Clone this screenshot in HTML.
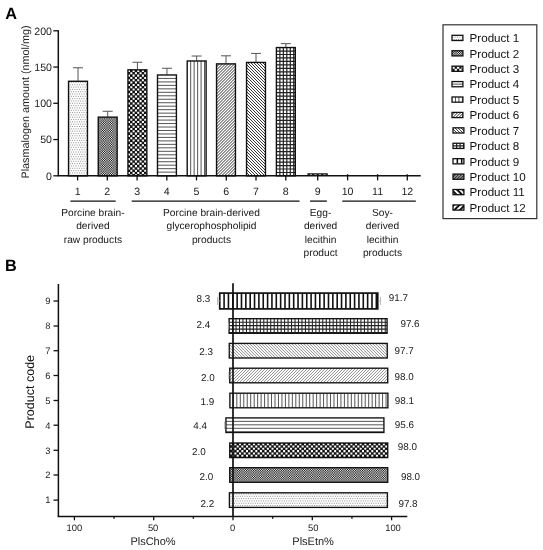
<!DOCTYPE html>
<html><head><meta charset="utf-8"><title>Plasmalogen figure</title>
<style>
html,body{margin:0;padding:0;background:#fff;}
body{width:543px;height:550px;overflow:hidden;}
svg{display:block;filter:blur(0.3px);font-family:"Liberation Sans",sans-serif;fill:#111;text-rendering:geometricPrecision;}
.ax{stroke:#111;stroke-width:1.5;fill:none;}
.tk{stroke:#111;stroke-width:1.3;fill:none;}
.eb{stroke:#555;stroke-width:1.0;fill:none;}
.ebg{stroke:#aaa;stroke-width:0.8;fill:none;}
.ul{stroke:#111;stroke-width:1.3;}
.t1{font-size:10.6px;fill:#222;}
.t2{font-size:10.2px;fill:#151515;}
.t3{font-size:9.4px;fill:#222;}
.t4{font-size:9.9px;fill:#222;}
.lg{font-size:11.6px;fill:#111;}
</style></head><body>
<svg width="543" height="550" viewBox="0 0 543 550">

<text x="5.2" y="18.8" font-size="16.3px" font-weight="bold" fill="#000">A</text>
<path class="eb" d="M78.00,80.83 V67.78 M73.00,67.78 H83.00"/>
<clipPath id="c1"><rect x="68.55" y="81.28" width="18.9" height="94.52"/></clipPath>
<g clip-path="url(#c1)"><rect x="68.55" y="81.28" width="18.9" height="94.52" fill="#fdfdfd"/>
<path d="M66.23,82.44H89.77M65.07,84.76H89.77M66.23,87.08H89.77M65.07,89.39H89.77M66.23,91.71H89.77M65.07,94.03H89.77M66.23,96.35H89.77M65.07,98.67H89.77M66.23,100.99H89.77M65.07,103.31H89.77M66.23,105.63H89.77M65.07,107.95H89.77M66.23,110.27H89.77M65.07,112.59H89.77M66.23,114.91H89.77M65.07,117.23H89.77M66.23,119.55H89.77M65.07,121.87H89.77M66.23,124.19H89.77M65.07,126.51H89.77M66.23,128.83H89.77M65.07,131.15H89.77M66.23,133.47H89.77M65.07,135.79H89.77M66.23,138.11H89.77M65.07,140.43H89.77M66.23,142.75H89.77M65.07,145.07H89.77M66.23,147.39H89.77M65.07,149.71H89.77M66.23,152.03H89.77M65.07,154.35H89.77M66.23,156.67H89.77M65.07,158.99H89.77M66.23,161.31H89.77M65.07,163.63H89.77M66.23,165.95H89.77M65.07,168.27H89.77M66.23,170.59H89.77M65.07,172.91H89.77M66.23,175.23H89.77M65.07,177.55H89.77" stroke="#8a8a8a" stroke-width="0.95" stroke-dasharray="0.95 1.37" fill="none"/>
</g>
<rect x="68.55" y="81.28" width="18.9" height="94.52" fill="none" stroke="#111" stroke-width="1.4"/>
<path class="eb" d="M107.70,116.71 V111.28 M102.70,111.28 H112.70"/>
<clipPath id="c2"><rect x="98.25" y="117.16" width="18.9" height="58.64"/></clipPath>
<g clip-path="url(#c2)"><rect x="98.25" y="117.16" width="18.9" height="58.64" fill="#e6e6e6"/>
<path d="M95.93,117.74H119.47M94.77,118.9H119.47M95.93,120.06H119.47M94.77,121.22H119.47M95.93,122.38H119.47M94.77,123.54H119.47M95.93,124.7H119.47M94.77,125.86H119.47M95.93,127.02H119.47M94.77,128.18H119.47M95.93,129.34H119.47M94.77,130.5H119.47M95.93,131.66H119.47M94.77,132.82H119.47M95.93,133.98H119.47M94.77,135.14H119.47M95.93,136.3H119.47M94.77,137.46H119.47M95.93,138.62H119.47M94.77,139.78H119.47M95.93,140.94H119.47M94.77,142.1H119.47M95.93,143.26H119.47M94.77,144.42H119.47M95.93,145.58H119.47M94.77,146.74H119.47M95.93,147.9H119.47M94.77,149.06H119.47M95.93,150.22H119.47M94.77,151.38H119.47M95.93,152.54H119.47M94.77,153.7H119.47M95.93,154.86H119.47M94.77,156.02H119.47M95.93,157.18H119.47M94.77,158.34H119.47M95.93,159.5H119.47M94.77,160.66H119.47M95.93,161.82H119.47M94.77,162.98H119.47M95.93,164.14H119.47M94.77,165.3H119.47M95.93,166.46H119.47M94.77,167.62H119.47M95.93,168.78H119.47M94.77,169.94H119.47M95.93,171.1H119.47M94.77,172.26H119.47M95.93,173.42H119.47M94.77,174.58H119.47M95.93,175.74H119.47M94.77,176.9H119.47" stroke="#1a1a1a" stroke-width="1.16" stroke-dasharray="1.16 1.16" fill="none"/>
</g>
<rect x="98.25" y="117.16" width="18.9" height="58.64" fill="none" stroke="#111" stroke-width="1.4"/>
<path class="eb" d="M137.40,69.37 V62.26 M132.40,62.26 H142.40"/>
<clipPath id="c3"><rect x="127.95" y="69.82" width="18.9" height="105.98"/></clipPath>
<g clip-path="url(#c3)"><rect x="127.95" y="69.82" width="18.9" height="105.98" fill="#111"/>
<path d="M123.31,70.98H151.49M120.99,73.3H151.49M123.31,75.62H151.49M120.99,77.94H151.49M123.31,80.26H151.49M120.99,82.58H151.49M123.31,84.9H151.49M120.99,87.22H151.49M123.31,89.54H151.49M120.99,91.86H151.49M123.31,94.18H151.49M120.99,96.5H151.49M123.31,98.82H151.49M120.99,101.14H151.49M123.31,103.46H151.49M120.99,105.78H151.49M123.31,108.1H151.49M120.99,110.42H151.49M123.31,112.74H151.49M120.99,115.06H151.49M123.31,117.38H151.49M120.99,119.7H151.49M123.31,122.02H151.49M120.99,124.34H151.49M123.31,126.66H151.49M120.99,128.98H151.49M123.31,131.3H151.49M120.99,133.62H151.49M123.31,135.94H151.49M120.99,138.26H151.49M123.31,140.58H151.49M120.99,142.9H151.49M123.31,145.22H151.49M120.99,147.54H151.49M123.31,149.86H151.49M120.99,152.18H151.49M123.31,154.5H151.49M120.99,156.82H151.49M123.31,159.14H151.49M120.99,161.46H151.49M123.31,163.78H151.49M120.99,166.1H151.49M123.31,168.42H151.49M120.99,170.74H151.49M123.31,173.06H151.49M120.99,175.38H151.49M123.31,177.7H151.49" stroke="#fff" stroke-width="2.05" stroke-dasharray="2.05 2.59" fill="none"/>
</g>
<rect x="127.95" y="69.82" width="18.9" height="105.98" fill="none" stroke="#111" stroke-width="1.4"/>
<path class="eb" d="M166.95,74.52 V68.28 M161.95,68.28 H171.95"/>
<clipPath id="c4"><rect x="157.5" y="74.97" width="18.9" height="100.83"/></clipPath>
<g clip-path="url(#c4)"><rect x="157.5" y="74.97" width="18.9" height="100.83" fill="#fff"/>
<path d="M157.5,78.44H176.4M157.5,81.91H176.4M157.5,85.38H176.4M157.5,88.85H176.4M157.5,92.32H176.4M157.5,95.79H176.4M157.5,99.26H176.4M157.5,102.73H176.4M157.5,106.2H176.4M157.5,109.67H176.4M157.5,113.14H176.4M157.5,116.61H176.4M157.5,120.08H176.4M157.5,123.55H176.4M157.5,127.02H176.4M157.5,130.49H176.4M157.5,133.96H176.4M157.5,137.43H176.4M157.5,140.9H176.4M157.5,144.37H176.4M157.5,147.84H176.4M157.5,151.31H176.4M157.5,154.78H176.4M157.5,158.25H176.4M157.5,161.72H176.4M157.5,165.19H176.4M157.5,168.66H176.4M157.5,172.13H176.4M157.5,175.6H176.4" stroke="#555" stroke-width="1.0" fill="none"/>
</g>
<rect x="157.5" y="74.97" width="18.9" height="100.83" fill="none" stroke="#111" stroke-width="1.4"/>
<path class="eb" d="M196.65,60.53 V56.03 M191.65,56.03 H201.65"/>
<clipPath id="c5"><rect x="187.2" y="60.98" width="18.9" height="114.83"/></clipPath>
<g clip-path="url(#c5)"><rect x="187.2" y="60.98" width="18.9" height="114.83" fill="#fff"/>
<path d="M190.67,60.98V175.8M194.14,60.98V175.8M197.61,60.98V175.8M201.08,60.98V175.8M204.55,60.98V175.8" stroke="#555" stroke-width="1.0" fill="none"/>
</g>
<rect x="187.2" y="60.98" width="18.9" height="114.83" fill="none" stroke="#111" stroke-width="1.4"/>
<path class="eb" d="M226.00,63.43 V55.81 M221.00,55.81 H231.00"/>
<clipPath id="c6"><rect x="216.55" y="63.88" width="18.9" height="111.92"/></clipPath>
<g clip-path="url(#c6)"><rect x="216.55" y="63.88" width="18.9" height="111.92" fill="#fff"/>
<path d="M215.55,64.88L236.45,43.98M215.55,67.88L236.45,46.98M215.55,70.88L236.45,49.98M215.55,73.88L236.45,52.98M215.55,76.88L236.45,55.98M215.55,79.88L236.45,58.98M215.55,82.88L236.45,61.98M215.55,85.88L236.45,64.98M215.55,88.88L236.45,67.98M215.55,91.88L236.45,70.98M215.55,94.88L236.45,73.98M215.55,97.88L236.45,76.98M215.55,100.88L236.45,79.98M215.55,103.88L236.45,82.98M215.55,106.88L236.45,85.98M215.55,109.88L236.45,88.98M215.55,112.88L236.45,91.98M215.55,115.88L236.45,94.98M215.55,118.88L236.45,97.98M215.55,121.88L236.45,100.98M215.55,124.88L236.45,103.98M215.55,127.88L236.45,106.98M215.55,130.88L236.45,109.98M215.55,133.88L236.45,112.98M215.55,136.88L236.45,115.98M215.55,139.88L236.45,118.98M215.55,142.88L236.45,121.98M215.55,145.88L236.45,124.98M215.55,148.88L236.45,127.98M215.55,151.88L236.45,130.98M215.55,154.88L236.45,133.98M215.55,157.88L236.45,136.98M215.55,160.88L236.45,139.98M215.55,163.88L236.45,142.98M215.55,166.88L236.45,145.98M215.55,169.88L236.45,148.98M215.55,172.88L236.45,151.98M215.55,175.88L236.45,154.98M215.55,178.88L236.45,157.98M215.55,181.88L236.45,160.98M215.55,184.88L236.45,163.98M215.55,187.88L236.45,166.98M215.55,190.88L236.45,169.98M215.55,193.88L236.45,172.98M215.55,196.88L236.45,175.98" stroke="#2a2a2a" stroke-width="0.95" fill="none"/>
</g>
<rect x="216.55" y="63.88" width="18.9" height="111.92" fill="none" stroke="#111" stroke-width="1.4"/>
<path class="eb" d="M256.00,61.98 V53.42 M251.00,53.42 H261.00"/>
<clipPath id="c7"><rect x="246.55" y="62.43" width="18.9" height="113.38"/></clipPath>
<g clip-path="url(#c7)"><rect x="246.55" y="62.43" width="18.9" height="113.38" fill="#fff"/>
<path d="M245.55,42.53L266.45,63.43M245.55,45.53L266.45,66.43M245.55,48.53L266.45,69.43M245.55,51.53L266.45,72.43M245.55,54.53L266.45,75.43M245.55,57.53L266.45,78.43M245.55,60.53L266.45,81.43M245.55,63.53L266.45,84.43M245.55,66.53L266.45,87.43M245.55,69.53L266.45,90.43M245.55,72.53L266.45,93.43M245.55,75.53L266.45,96.43M245.55,78.53L266.45,99.43M245.55,81.53L266.45,102.43M245.55,84.53L266.45,105.43M245.55,87.53L266.45,108.43M245.55,90.53L266.45,111.43M245.55,93.53L266.45,114.43M245.55,96.53L266.45,117.43M245.55,99.53L266.45,120.43M245.55,102.53L266.45,123.43M245.55,105.53L266.45,126.43M245.55,108.53L266.45,129.43M245.55,111.53L266.45,132.43M245.55,114.53L266.45,135.43M245.55,117.53L266.45,138.43M245.55,120.53L266.45,141.43M245.55,123.53L266.45,144.43M245.55,126.53L266.45,147.43M245.55,129.53L266.45,150.43M245.55,132.53L266.45,153.43M245.55,135.53L266.45,156.43M245.55,138.53L266.45,159.43M245.55,141.53L266.45,162.43M245.55,144.53L266.45,165.43M245.55,147.53L266.45,168.43M245.55,150.53L266.45,171.43M245.55,153.53L266.45,174.43M245.55,156.53L266.45,177.43M245.55,159.53L266.45,180.43M245.55,162.53L266.45,183.43M245.55,165.53L266.45,186.43M245.55,168.53L266.45,189.43M245.55,171.53L266.45,192.43M245.55,174.53L266.45,195.43M245.55,177.53L266.45,198.43" stroke="#2a2a2a" stroke-width="0.95" fill="none"/>
</g>
<rect x="246.55" y="62.43" width="18.9" height="113.38" fill="none" stroke="#111" stroke-width="1.4"/>
<path class="eb" d="M285.85,47.11 V43.63 M280.85,43.63 H290.85"/>
<clipPath id="c8"><rect x="276.4" y="47.56" width="18.9" height="128.24"/></clipPath>
<g clip-path="url(#c8)"><rect x="276.4" y="47.56" width="18.9" height="128.24" fill="#fff"/>
<path d="M276.4,51.03H295.3M276.4,54.5H295.3M276.4,57.97H295.3M276.4,61.44H295.3M276.4,64.91H295.3M276.4,68.38H295.3M276.4,71.85H295.3M276.4,75.32H295.3M276.4,78.79H295.3M276.4,82.26H295.3M276.4,85.73H295.3M276.4,89.2H295.3M276.4,92.67H295.3M276.4,96.14H295.3M276.4,99.61H295.3M276.4,103.08H295.3M276.4,106.55H295.3M276.4,110.02H295.3M276.4,113.49H295.3M276.4,116.96H295.3M276.4,120.43H295.3M276.4,123.9H295.3M276.4,127.37H295.3M276.4,130.84H295.3M276.4,134.31H295.3M276.4,137.78H295.3M276.4,141.25H295.3M276.4,144.72H295.3M276.4,148.19H295.3M276.4,151.66H295.3M276.4,155.13H295.3M276.4,158.6H295.3M276.4,162.07H295.3M276.4,165.54H295.3M276.4,169.01H295.3M276.4,172.48H295.3M276.4,175.95H295.3M279.87,47.56V175.8M283.34,47.56V175.8M286.81,47.56V175.8M290.28,47.56V175.8M293.75,47.56V175.8" stroke="#222" stroke-width="1.2" fill="none"/>
</g>
<rect x="276.4" y="47.56" width="18.9" height="128.24" fill="none" stroke="#111" stroke-width="1.4"/>
<rect x="307.4" y="173.2" width="20.4" height="2.8" fill="#222"/>
<path d="M310,174.6 h2 M314.5,174.6 h2 M319,174.6 h2 M323.5,174.6 h2" stroke="#aaa" stroke-width="1"/>
<path class="ax" d="M58.3,30.15 V175.80"/>
<path class="ax" d="M57.55,175.80 H420.7"/>
<path class="tk" d="M53.3,175.80 H58.3"/>
<text class="t1" x="52" y="179.60" text-anchor="end">0</text>
<path class="tk" d="M53.3,139.55 H58.3"/>
<text class="t1" x="52" y="143.35" text-anchor="end">50</text>
<path class="tk" d="M53.3,103.30 H58.3"/>
<text class="t1" x="52" y="107.10" text-anchor="end">100</text>
<path class="tk" d="M53.3,67.05 H58.3"/>
<text class="t1" x="52" y="70.85" text-anchor="end">150</text>
<path class="tk" d="M53.3,30.80 H58.3"/>
<text class="t1" x="52" y="34.60" text-anchor="end">200</text>
<path class="tk" d="M77.60,175.80 V180.4"/>
<text class="t1" x="77.60" y="195.3" text-anchor="middle">1</text>
<path class="tk" d="M107.30,175.80 V180.4"/>
<text class="t1" x="107.30" y="195.3" text-anchor="middle">2</text>
<path class="tk" d="M137.10,175.80 V180.4"/>
<text class="t1" x="137.10" y="195.3" text-anchor="middle">3</text>
<path class="tk" d="M166.80,175.80 V180.4"/>
<text class="t1" x="166.80" y="195.3" text-anchor="middle">4</text>
<path class="tk" d="M196.50,175.80 V180.4"/>
<text class="t1" x="196.50" y="195.3" text-anchor="middle">5</text>
<path class="tk" d="M226.30,175.80 V180.4"/>
<text class="t1" x="226.30" y="195.3" text-anchor="middle">6</text>
<path class="tk" d="M256.00,175.80 V180.4"/>
<text class="t1" x="256.00" y="195.3" text-anchor="middle">7</text>
<path class="tk" d="M285.80,175.80 V180.4"/>
<text class="t1" x="285.80" y="195.3" text-anchor="middle">8</text>
<path class="tk" d="M317.70,175.80 V180.4"/>
<text class="t1" x="317.70" y="195.3" text-anchor="middle">9</text>
<path class="tk" d="M347.60,174.20 V180.4"/>
<text class="t1" x="347.60" y="195.3" text-anchor="middle">10</text>
<path class="tk" d="M377.60,174.20 V180.4"/>
<text class="t1" x="377.60" y="195.3" text-anchor="middle">11</text>
<path class="tk" d="M407.30,174.20 V180.4"/>
<text class="t1" x="407.30" y="195.3" text-anchor="middle">12</text>
<text class="t1" style="font-size:10.8px" transform="translate(28.6,102) rotate(-90)" text-anchor="middle">Plasmalogen amount (nmol/mg)</text>
<path class="ul" d="M70.4,201.1 H115.7"/>
<path class="ul" d="M131.7,201.1 H299.5"/>
<path class="ul" d="M310.1,201.1 H326.9"/>
<path class="ul" d="M342.3,201.1 H415.8"/>
<text class="t2" x="92.9" y="216.10" text-anchor="middle">Porcine brain-</text>
<text class="t2" x="92.9" y="229.40" text-anchor="middle">derived</text>
<text class="t2" x="92.9" y="242.70" text-anchor="middle">raw products</text>
<text class="t2" x="211.5" y="216.10" text-anchor="middle">Porcine brain-derived</text>
<text class="t2" x="211.5" y="229.40" text-anchor="middle">glycerophospholipid</text>
<text class="t2" x="211.5" y="242.70" text-anchor="middle">products</text>
<text class="t2" x="320.6" y="216.10" text-anchor="middle">Egg-</text>
<text class="t2" x="320.6" y="229.40" text-anchor="middle">derived</text>
<text class="t2" x="320.6" y="242.70" text-anchor="middle">lecithin</text>
<text class="t2" x="320.6" y="256.00" text-anchor="middle">product</text>
<text class="t2" x="382.5" y="216.10" text-anchor="middle">Soy-</text>
<text class="t2" x="382.5" y="229.40" text-anchor="middle">derived</text>
<text class="t2" x="382.5" y="242.70" text-anchor="middle">lecithin</text>
<text class="t2" x="382.5" y="256.00" text-anchor="middle">products</text>
<rect x="443" y="24.8" width="93.8" height="193.8" fill="#fff" stroke="#333" stroke-width="1.2"/>
<clipPath id="c9"><rect x="452" y="35.3" width="10.9" height="5.2"/></clipPath>
<g clip-path="url(#c9)"><rect x="452" y="35.3" width="10.9" height="5.2" fill="#fdfdfd"/>
<path d="M450.08,37.21H465.22M448.92,39.53H465.22M450.08,41.85H465.22" stroke="#8a8a8a" stroke-width="0.95" stroke-dasharray="0.95 1.37" fill="none"/>
</g>
<rect x="452" y="35.3" width="10.9" height="5.2" fill="none" stroke="#111" stroke-width="1.3"/>
<text class="lg" x="469.6" y="42.15">Product 1</text>
<clipPath id="c10"><rect x="452" y="50.72" width="10.9" height="5.2"/></clipPath>
<g clip-path="url(#c10)"><rect x="452" y="50.72" width="10.9" height="5.2" fill="#e6e6e6"/>
<path d="M449.68,51.3H465.22M448.52,52.46H465.22M449.68,53.62H465.22M448.52,54.78H465.22M449.68,55.94H465.22" stroke="#1a1a1a" stroke-width="1.16" stroke-dasharray="1.16 1.16" fill="none"/>
</g>
<rect x="452" y="50.72" width="10.9" height="5.2" fill="none" stroke="#111" stroke-width="1.3"/>
<text class="lg" x="469.6" y="57.57">Product 2</text>
<clipPath id="c11"><rect x="452" y="66.14" width="10.9" height="5.2"/></clipPath>
<g clip-path="url(#c11)"><rect x="452" y="66.14" width="10.9" height="5.2" fill="#111"/>
<path d="M447.66,67.6H467.54M445.34,69.92H467.54M447.66,72.24H467.54" stroke="#fff" stroke-width="2.32" stroke-dasharray="2.32 2.32" fill="none"/>
</g>
<rect x="452" y="66.14" width="10.9" height="5.2" fill="none" stroke="#111" stroke-width="1.3"/>
<text class="lg" x="469.6" y="72.99">Product 3</text>
<clipPath id="c12"><rect x="452" y="81.56" width="10.9" height="5.2"/></clipPath>
<g clip-path="url(#c12)"><rect x="452" y="81.56" width="10.9" height="5.2" fill="#fff"/>
<path d="M452,84.16H462.9M452,87.63H462.9" stroke="#555" stroke-width="1.0" fill="none"/>
</g>
<rect x="452" y="81.56" width="10.9" height="5.2" fill="none" stroke="#111" stroke-width="1.3"/>
<text class="lg" x="469.6" y="88.41">Product 4</text>
<clipPath id="c13"><rect x="452" y="96.98" width="10.9" height="5.2"/></clipPath>
<g clip-path="url(#c13)"><rect x="452" y="96.98" width="10.9" height="5.2" fill="#fff"/>
<path d="M455.47,96.98V102.18M458.94,96.98V102.18M462.41,96.98V102.18" stroke="#555" stroke-width="1.0" fill="none"/>
</g>
<rect x="452" y="96.98" width="10.9" height="5.2" fill="none" stroke="#111" stroke-width="1.3"/>
<text class="lg" x="469.6" y="103.83">Product 5</text>
<clipPath id="c14"><rect x="452" y="112.4" width="10.9" height="5.2"/></clipPath>
<g clip-path="url(#c14)"><rect x="452" y="112.4" width="10.9" height="5.2" fill="#fff"/>
<path d="M451,113.4L463.9,100.5M451,116.4L463.9,103.5M451,119.4L463.9,106.5M451,122.4L463.9,109.5M451,125.4L463.9,112.5M451,128.4L463.9,115.5M451,131.4L463.9,118.5" stroke="#2a2a2a" stroke-width="0.95" fill="none"/>
</g>
<rect x="452" y="112.4" width="10.9" height="5.2" fill="none" stroke="#111" stroke-width="1.3"/>
<text class="lg" x="469.6" y="119.25">Product 6</text>
<clipPath id="c15"><rect x="453" y="127.82" width="10.9" height="5.2"/></clipPath>
<g clip-path="url(#c15)"><rect x="453" y="127.82" width="10.9" height="5.2" fill="#fff"/>
<path d="M452,115.92L464.9,128.82M452,118.92L464.9,131.82M452,121.92L464.9,134.82M452,124.92L464.9,137.82M452,127.92L464.9,140.82M452,130.92L464.9,143.82M452,133.92L464.9,146.82" stroke="#2a2a2a" stroke-width="0.95" fill="none"/>
</g>
<rect x="453" y="127.82" width="10.9" height="5.2" fill="none" stroke="#111" stroke-width="1.3"/>
<text class="lg" x="469.6" y="134.67">Product 7</text>
<clipPath id="c16"><rect x="453" y="143.24" width="10.9" height="5.2"/></clipPath>
<g clip-path="url(#c16)"><rect x="453" y="143.24" width="10.9" height="5.2" fill="#fff"/>
<path d="M453,145.84H463.9M453,149.31H463.9M456.63,143.24V148.44M460.1,143.24V148.44M463.57,143.24V148.44" stroke="#222" stroke-width="1.2" fill="none"/>
</g>
<rect x="453" y="143.24" width="10.9" height="5.2" fill="none" stroke="#111" stroke-width="1.3"/>
<text class="lg" x="469.6" y="150.09">Product 8</text>
<clipPath id="c17"><rect x="453" y="158.66" width="10.9" height="5.2"/></clipPath>
<g clip-path="url(#c17)"><rect x="453" y="158.66" width="10.9" height="5.2" fill="#fff"/>
<path d="M457.35,158.66V163.86M461.7,158.66V163.86" stroke="#111" stroke-width="1.6" fill="none"/>
</g>
<rect x="453" y="158.66" width="10.9" height="5.2" fill="none" stroke="#111" stroke-width="1.3"/>
<text class="lg" x="469.6" y="165.51">Product 9</text>
<clipPath id="c18"><rect x="453" y="174.08" width="10.9" height="5.2"/></clipPath>
<g clip-path="url(#c18)"><rect x="453" y="174.08" width="10.9" height="5.2" fill="#bbb"/>
<path d="M452,175.08L464.9,162.18M452,178.08L464.9,165.18M452,181.08L464.9,168.18M452,184.08L464.9,171.18M452,187.08L464.9,174.18M452,190.08L464.9,177.18M452,193.08L464.9,180.18" stroke="#333" stroke-width="1.2" fill="none"/>
</g>
<rect x="453" y="174.08" width="10.9" height="5.2" fill="none" stroke="#111" stroke-width="1.3"/>
<text class="lg" x="469.6" y="180.93">Product 10</text>
<clipPath id="c19"><rect x="453" y="189.5" width="10.9" height="5.2"/></clipPath>
<g clip-path="url(#c19)"><rect x="453" y="189.5" width="10.9" height="5.2" fill="#fff"/>
<path d="M452,179.1L464.9,192M452,184.6L464.9,197.5M452,190.1L464.9,203M452,195.6L464.9,208.5" stroke="#111" stroke-width="2.0" fill="none"/>
</g>
<rect x="453" y="189.5" width="10.9" height="5.2" fill="none" stroke="#111" stroke-width="1.3"/>
<text class="lg" x="469.6" y="196.35">Product 11</text>
<clipPath id="c20"><rect x="453" y="204.92" width="10.9" height="5.2"/></clipPath>
<g clip-path="url(#c20)"><rect x="453" y="204.92" width="10.9" height="5.2" fill="#fff"/>
<path d="M452,206.92L464.9,194.02M452,212.42L464.9,199.52M452,217.92L464.9,205.02M452,223.42L464.9,210.52" stroke="#111" stroke-width="2.0" fill="none"/>
</g>
<rect x="453" y="204.92" width="10.9" height="5.2" fill="none" stroke="#111" stroke-width="1.3"/>
<text class="lg" x="469.6" y="211.77">Product 12</text>
<text x="5.1" y="271.3" font-size="16.3px" font-weight="bold" fill="#000">B</text>
<clipPath id="c21"><rect x="219.74" y="293.1" width="158" height="15.8"/></clipPath>
<g clip-path="url(#c21)"><rect x="219.74" y="293.1" width="158" height="15.8" fill="#fff"/>
<path d="M224.09,293.1V308.9M228.44,293.1V308.9M232.79,293.1V308.9M237.14,293.1V308.9M241.49,293.1V308.9M245.84,293.1V308.9M250.19,293.1V308.9M254.54,293.1V308.9M258.89,293.1V308.9M263.24,293.1V308.9M267.59,293.1V308.9M271.94,293.1V308.9M276.29,293.1V308.9M280.64,293.1V308.9M284.99,293.1V308.9M289.34,293.1V308.9M293.69,293.1V308.9M298.04,293.1V308.9M302.39,293.1V308.9M306.74,293.1V308.9M311.09,293.1V308.9M315.44,293.1V308.9M319.79,293.1V308.9M324.14,293.1V308.9M328.49,293.1V308.9M332.84,293.1V308.9M337.19,293.1V308.9M341.54,293.1V308.9M345.89,293.1V308.9M350.24,293.1V308.9M354.59,293.1V308.9M358.94,293.1V308.9M363.29,293.1V308.9M367.64,293.1V308.9M371.99,293.1V308.9M376.34,293.1V308.9" stroke="#111" stroke-width="1.6" fill="none"/>
</g>
<rect x="219.74" y="293.1" width="158" height="15.8" fill="none" stroke="#111" stroke-width="1.7"/>
<clipPath id="c22"><rect x="229.09" y="318.7" width="158" height="14.6"/></clipPath>
<g clip-path="url(#c22)"><rect x="229.09" y="318.7" width="158" height="14.6" fill="#fff"/>
<path d="M229.09,322.17H387.09M229.09,325.64H387.09M229.09,329.11H387.09M229.09,332.58H387.09M232.56,318.7V333.3M236.03,318.7V333.3M239.5,318.7V333.3M242.97,318.7V333.3M246.44,318.7V333.3M249.91,318.7V333.3M253.38,318.7V333.3M256.85,318.7V333.3M260.32,318.7V333.3M263.79,318.7V333.3M267.26,318.7V333.3M270.73,318.7V333.3M274.2,318.7V333.3M277.67,318.7V333.3M281.14,318.7V333.3M284.61,318.7V333.3M288.08,318.7V333.3M291.55,318.7V333.3M295.02,318.7V333.3M298.49,318.7V333.3M301.96,318.7V333.3M305.43,318.7V333.3M308.9,318.7V333.3M312.37,318.7V333.3M315.84,318.7V333.3M319.31,318.7V333.3M322.78,318.7V333.3M326.25,318.7V333.3M329.72,318.7V333.3M333.19,318.7V333.3M336.66,318.7V333.3M340.13,318.7V333.3M343.6,318.7V333.3M347.07,318.7V333.3M350.54,318.7V333.3M354.01,318.7V333.3M357.48,318.7V333.3M360.95,318.7V333.3M364.42,318.7V333.3M367.89,318.7V333.3M371.36,318.7V333.3M374.83,318.7V333.3M378.3,318.7V333.3M381.77,318.7V333.3M385.24,318.7V333.3" stroke="#222" stroke-width="1.05" fill="none"/>
</g>
<rect x="229.09" y="318.7" width="158" height="14.6" fill="none" stroke="#111" stroke-width="1.35"/>
<clipPath id="c23"><rect x="229.25" y="343.4" width="158" height="14.6"/></clipPath>
<g clip-path="url(#c23)"><rect x="229.25" y="343.4" width="158" height="14.6" fill="#fff"/>
<path d="M228.25,184.4L388.25,344.4M228.25,187.4L388.25,347.4M228.25,190.4L388.25,350.4M228.25,193.4L388.25,353.4M228.25,196.4L388.25,356.4M228.25,199.4L388.25,359.4M228.25,202.4L388.25,362.4M228.25,205.4L388.25,365.4M228.25,208.4L388.25,368.4M228.25,211.4L388.25,371.4M228.25,214.4L388.25,374.4M228.25,217.4L388.25,377.4M228.25,220.4L388.25,380.4M228.25,223.4L388.25,383.4M228.25,226.4L388.25,386.4M228.25,229.4L388.25,389.4M228.25,232.4L388.25,392.4M228.25,235.4L388.25,395.4M228.25,238.4L388.25,398.4M228.25,241.4L388.25,401.4M228.25,244.4L388.25,404.4M228.25,247.4L388.25,407.4M228.25,250.4L388.25,410.4M228.25,253.4L388.25,413.4M228.25,256.4L388.25,416.4M228.25,259.4L388.25,419.4M228.25,262.4L388.25,422.4M228.25,265.4L388.25,425.4M228.25,268.4L388.25,428.4M228.25,271.4L388.25,431.4M228.25,274.4L388.25,434.4M228.25,277.4L388.25,437.4M228.25,280.4L388.25,440.4M228.25,283.4L388.25,443.4M228.25,286.4L388.25,446.4M228.25,289.4L388.25,449.4M228.25,292.4L388.25,452.4M228.25,295.4L388.25,455.4M228.25,298.4L388.25,458.4M228.25,301.4L388.25,461.4M228.25,304.4L388.25,464.4M228.25,307.4L388.25,467.4M228.25,310.4L388.25,470.4M228.25,313.4L388.25,473.4M228.25,316.4L388.25,476.4M228.25,319.4L388.25,479.4M228.25,322.4L388.25,482.4M228.25,325.4L388.25,485.4M228.25,328.4L388.25,488.4M228.25,331.4L388.25,491.4M228.25,334.4L388.25,494.4M228.25,337.4L388.25,497.4M228.25,340.4L388.25,500.4M228.25,343.4L388.25,503.4M228.25,346.4L388.25,506.4M228.25,349.4L388.25,509.4M228.25,352.4L388.25,512.4M228.25,355.4L388.25,515.4M228.25,358.4L388.25,518.4" stroke="#444" stroke-width="0.6" fill="none"/>
</g>
<rect x="229.25" y="343.4" width="158" height="14.6" fill="none" stroke="#111" stroke-width="1.35"/>
<clipPath id="c24"><rect x="229.73" y="368.2" width="158" height="14.6"/></clipPath>
<g clip-path="url(#c24)"><rect x="229.73" y="368.2" width="158" height="14.6" fill="#fff"/>
<path d="M228.73,369.2L388.73,209.2M228.73,372.2L388.73,212.2M228.73,375.2L388.73,215.2M228.73,378.2L388.73,218.2M228.73,381.2L388.73,221.2M228.73,384.2L388.73,224.2M228.73,387.2L388.73,227.2M228.73,390.2L388.73,230.2M228.73,393.2L388.73,233.2M228.73,396.2L388.73,236.2M228.73,399.2L388.73,239.2M228.73,402.2L388.73,242.2M228.73,405.2L388.73,245.2M228.73,408.2L388.73,248.2M228.73,411.2L388.73,251.2M228.73,414.2L388.73,254.2M228.73,417.2L388.73,257.2M228.73,420.2L388.73,260.2M228.73,423.2L388.73,263.2M228.73,426.2L388.73,266.2M228.73,429.2L388.73,269.2M228.73,432.2L388.73,272.2M228.73,435.2L388.73,275.2M228.73,438.2L388.73,278.2M228.73,441.2L388.73,281.2M228.73,444.2L388.73,284.2M228.73,447.2L388.73,287.2M228.73,450.2L388.73,290.2M228.73,453.2L388.73,293.2M228.73,456.2L388.73,296.2M228.73,459.2L388.73,299.2M228.73,462.2L388.73,302.2M228.73,465.2L388.73,305.2M228.73,468.2L388.73,308.2M228.73,471.2L388.73,311.2M228.73,474.2L388.73,314.2M228.73,477.2L388.73,317.2M228.73,480.2L388.73,320.2M228.73,483.2L388.73,323.2M228.73,486.2L388.73,326.2M228.73,489.2L388.73,329.2M228.73,492.2L388.73,332.2M228.73,495.2L388.73,335.2M228.73,498.2L388.73,338.2M228.73,501.2L388.73,341.2M228.73,504.2L388.73,344.2M228.73,507.2L388.73,347.2M228.73,510.2L388.73,350.2M228.73,513.2L388.73,353.2M228.73,516.2L388.73,356.2M228.73,519.2L388.73,359.2M228.73,522.2L388.73,362.2M228.73,525.2L388.73,365.2M228.73,528.2L388.73,368.2M228.73,531.2L388.73,371.2M228.73,534.2L388.73,374.2M228.73,537.2L388.73,377.2M228.73,540.2L388.73,380.2M228.73,543.2L388.73,383.2" stroke="#444" stroke-width="0.6" fill="none"/>
</g>
<rect x="229.73" y="368.2" width="158" height="14.6" fill="none" stroke="#111" stroke-width="1.35"/>
<clipPath id="c25"><rect x="229.89" y="393.2" width="158" height="14.6"/></clipPath>
<g clip-path="url(#c25)"><rect x="229.89" y="393.2" width="158" height="14.6" fill="#fff"/>
<path d="M233.36,393.2V407.8M236.83,393.2V407.8M240.3,393.2V407.8M243.77,393.2V407.8M247.24,393.2V407.8M250.71,393.2V407.8M254.18,393.2V407.8M257.65,393.2V407.8M261.12,393.2V407.8M264.59,393.2V407.8M268.06,393.2V407.8M271.53,393.2V407.8M275,393.2V407.8M278.47,393.2V407.8M281.94,393.2V407.8M285.41,393.2V407.8M288.88,393.2V407.8M292.35,393.2V407.8M295.82,393.2V407.8M299.29,393.2V407.8M302.76,393.2V407.8M306.23,393.2V407.8M309.7,393.2V407.8M313.17,393.2V407.8M316.64,393.2V407.8M320.11,393.2V407.8M323.58,393.2V407.8M327.05,393.2V407.8M330.52,393.2V407.8M333.99,393.2V407.8M337.46,393.2V407.8M340.93,393.2V407.8M344.4,393.2V407.8M347.87,393.2V407.8M351.34,393.2V407.8M354.81,393.2V407.8M358.28,393.2V407.8M361.75,393.2V407.8M365.22,393.2V407.8M368.69,393.2V407.8M372.16,393.2V407.8M375.63,393.2V407.8M379.1,393.2V407.8M382.57,393.2V407.8M386.04,393.2V407.8" stroke="#555" stroke-width="1.0" fill="none"/>
</g>
<rect x="229.89" y="393.2" width="158" height="14.6" fill="none" stroke="#111" stroke-width="1.35"/>
<clipPath id="c26"><rect x="225.92" y="417.9" width="158" height="14.6"/></clipPath>
<g clip-path="url(#c26)"><rect x="225.92" y="417.9" width="158" height="14.6" fill="#fff"/>
<path d="M225.92,421.37H383.92M225.92,424.84H383.92M225.92,428.31H383.92M225.92,431.78H383.92" stroke="#555" stroke-width="1.0" fill="none"/>
</g>
<rect x="225.92" y="417.9" width="158" height="14.6" fill="none" stroke="#111" stroke-width="1.35"/>
<clipPath id="c27"><rect x="229.73" y="443" width="158" height="14.6"/></clipPath>
<g clip-path="url(#c27)"><rect x="229.73" y="443" width="158" height="14.6" fill="#111"/>
<path d="M225.09,444.16H392.37M222.77,446.48H392.37M225.09,448.8H392.37M222.77,451.12H392.37M225.09,453.44H392.37M222.77,455.76H392.37M225.09,458.08H392.37" stroke="#fff" stroke-width="2.05" stroke-dasharray="2.05 2.59" fill="none"/>
</g>
<rect x="229.73" y="443" width="158" height="14.6" fill="none" stroke="#111" stroke-width="1.35"/>
<clipPath id="c28"><rect x="229.73" y="467.7" width="158" height="14.6"/></clipPath>
<g clip-path="url(#c28)"><rect x="229.73" y="467.7" width="158" height="14.6" fill="#e6e6e6"/>
<path d="M227.41,468.28H390.05M226.25,469.44H390.05M227.41,470.6H390.05M226.25,471.76H390.05M227.41,472.92H390.05M226.25,474.08H390.05M227.41,475.24H390.05M226.25,476.4H390.05M227.41,477.56H390.05M226.25,478.72H390.05M227.41,479.88H390.05M226.25,481.04H390.05M227.41,482.2H390.05M226.25,483.36H390.05" stroke="#1a1a1a" stroke-width="1.16" stroke-dasharray="1.16 1.16" fill="none"/>
</g>
<rect x="229.73" y="467.7" width="158" height="14.6" fill="none" stroke="#111" stroke-width="1.35"/>
<clipPath id="c29"><rect x="229.41" y="492.8" width="158" height="14.6"/></clipPath>
<g clip-path="url(#c29)"><rect x="229.41" y="492.8" width="158" height="14.6" fill="#fdfdfd"/>
<path d="M227.09,493.96H389.73M225.93,496.28H389.73M227.09,498.6H389.73M225.93,500.92H389.73M227.09,503.24H389.73M225.93,505.56H389.73M227.09,507.88H389.73" stroke="#8a8a8a" stroke-width="0.95" stroke-dasharray="0.95 1.37" fill="none"/>
</g>
<rect x="229.41" y="492.8" width="158" height="14.6" fill="none" stroke="#111" stroke-width="1.35"/>
<path class="ebg" d="M220,301 H217.5 M217.5,297 V305"/>
<path class="ebg" d="M378.6,301 H380.5 M380.5,297 V305"/>
<path class="ebg" d="M226,425.2 H224.6 M224.6,421.5 V429"/>
<path class="ebg" d="M229.3,326 H228.4 M228.4,322.5 V329.5 M229.3,350.7 H228.4 M228.4,347.5 V354 M229.6,375.5 H228.8 M228.8,372 V379"/>
<path class="ax" d="M58.4,284 V516.5"/>
<path class="ax" d="M57.65,516.5 H407.3"/>
<path class="ax" style="stroke-width:1.7" d="M233.0,283.3 V516.5"/>
<path class="tk" d="M53.5,301.0 H58.4"/>
<text class="t3" x="50.5" y="304.30" text-anchor="end">9</text>
<path class="tk" d="M53.5,326.0 H58.4"/>
<text class="t3" x="50.5" y="329.30" text-anchor="end">8</text>
<path class="tk" d="M53.5,350.7 H58.4"/>
<text class="t3" x="50.5" y="354.00" text-anchor="end">7</text>
<path class="tk" d="M53.5,375.5 H58.4"/>
<text class="t3" x="50.5" y="378.80" text-anchor="end">6</text>
<path class="tk" d="M53.5,400.5 H58.4"/>
<text class="t3" x="50.5" y="403.80" text-anchor="end">5</text>
<path class="tk" d="M53.5,425.2 H58.4"/>
<text class="t3" x="50.5" y="428.50" text-anchor="end">4</text>
<path class="tk" d="M53.5,450.3 H58.4"/>
<text class="t3" x="50.5" y="453.60" text-anchor="end">3</text>
<path class="tk" d="M53.5,475.0 H58.4"/>
<text class="t3" x="50.5" y="478.30" text-anchor="end">2</text>
<path class="tk" d="M53.5,500.1 H58.4"/>
<text class="t3" x="50.5" y="503.40" text-anchor="end">1</text>
<path class="tk" d="M74.40,516.5 V520.3"/>
<text class="t3" x="74.40" y="531" text-anchor="middle">100</text>
<path class="tk" d="M153.70,516.5 V520.3"/>
<text class="t3" x="153.10" y="531" text-anchor="middle">50</text>
<path class="tk" d="M233.00,516.5 V520.3"/>
<text class="t3" x="232.70" y="531" text-anchor="middle">0</text>
<path class="tk" d="M312.30,516.5 V520.3"/>
<text class="t3" x="313.20" y="531" text-anchor="middle">50</text>
<path class="tk" d="M391.60,516.5 V520.3"/>
<text class="t3" x="393.00" y="531" text-anchor="middle">100</text>
<path class="tk" d="M114.05,516.5 V518.8"/>
<path class="tk" d="M193.35,516.5 V518.8"/>
<path class="tk" d="M272.65,516.5 V518.8"/>
<path class="tk" d="M351.95,516.5 V518.8"/>
<text transform="translate(34.2,391.8) rotate(-90)" text-anchor="middle" font-size="12.5px" fill="#111">Product code</text>
<text x="153" y="545.2" text-anchor="middle" font-size="11px" fill="#222">PlsCho%</text>
<text x="313.1" y="545.2" text-anchor="middle" font-size="11px" fill="#222">PlsEtn%</text>
<text class="t4" x="196.60" y="301.65">8.3</text>
<text class="t4" x="196.60" y="328.15">2.4</text>
<text class="t4" x="199.30" y="354.85">2.3</text>
<text class="t4" x="201.00" y="380.75">2.0</text>
<text class="t4" x="200.60" y="405.15">1.9</text>
<text class="t4" x="193.30" y="429.35">4.4</text>
<text class="t4" x="192.10" y="454.55">2.0</text>
<text class="t4" x="199.40" y="480.35">2.0</text>
<text class="t4" x="200.60" y="507.35">2.2</text>
<text class="t4" x="388.70" y="301.15">91.7</text>
<text class="t4" x="400.40" y="326.75">97.6</text>
<text class="t4" x="394.60" y="354.35">97.7</text>
<text class="t4" x="394.60" y="379.75">98.0</text>
<text class="t4" x="394.80" y="403.85">98.1</text>
<text class="t4" x="394.80" y="428.05">95.6</text>
<text class="t4" x="397.70" y="449.85">98.0</text>
<text class="t4" x="400.90" y="480.45">98.0</text>
<text class="t4" x="398.40" y="507.45">97.8</text>
</svg>
</body></html>
